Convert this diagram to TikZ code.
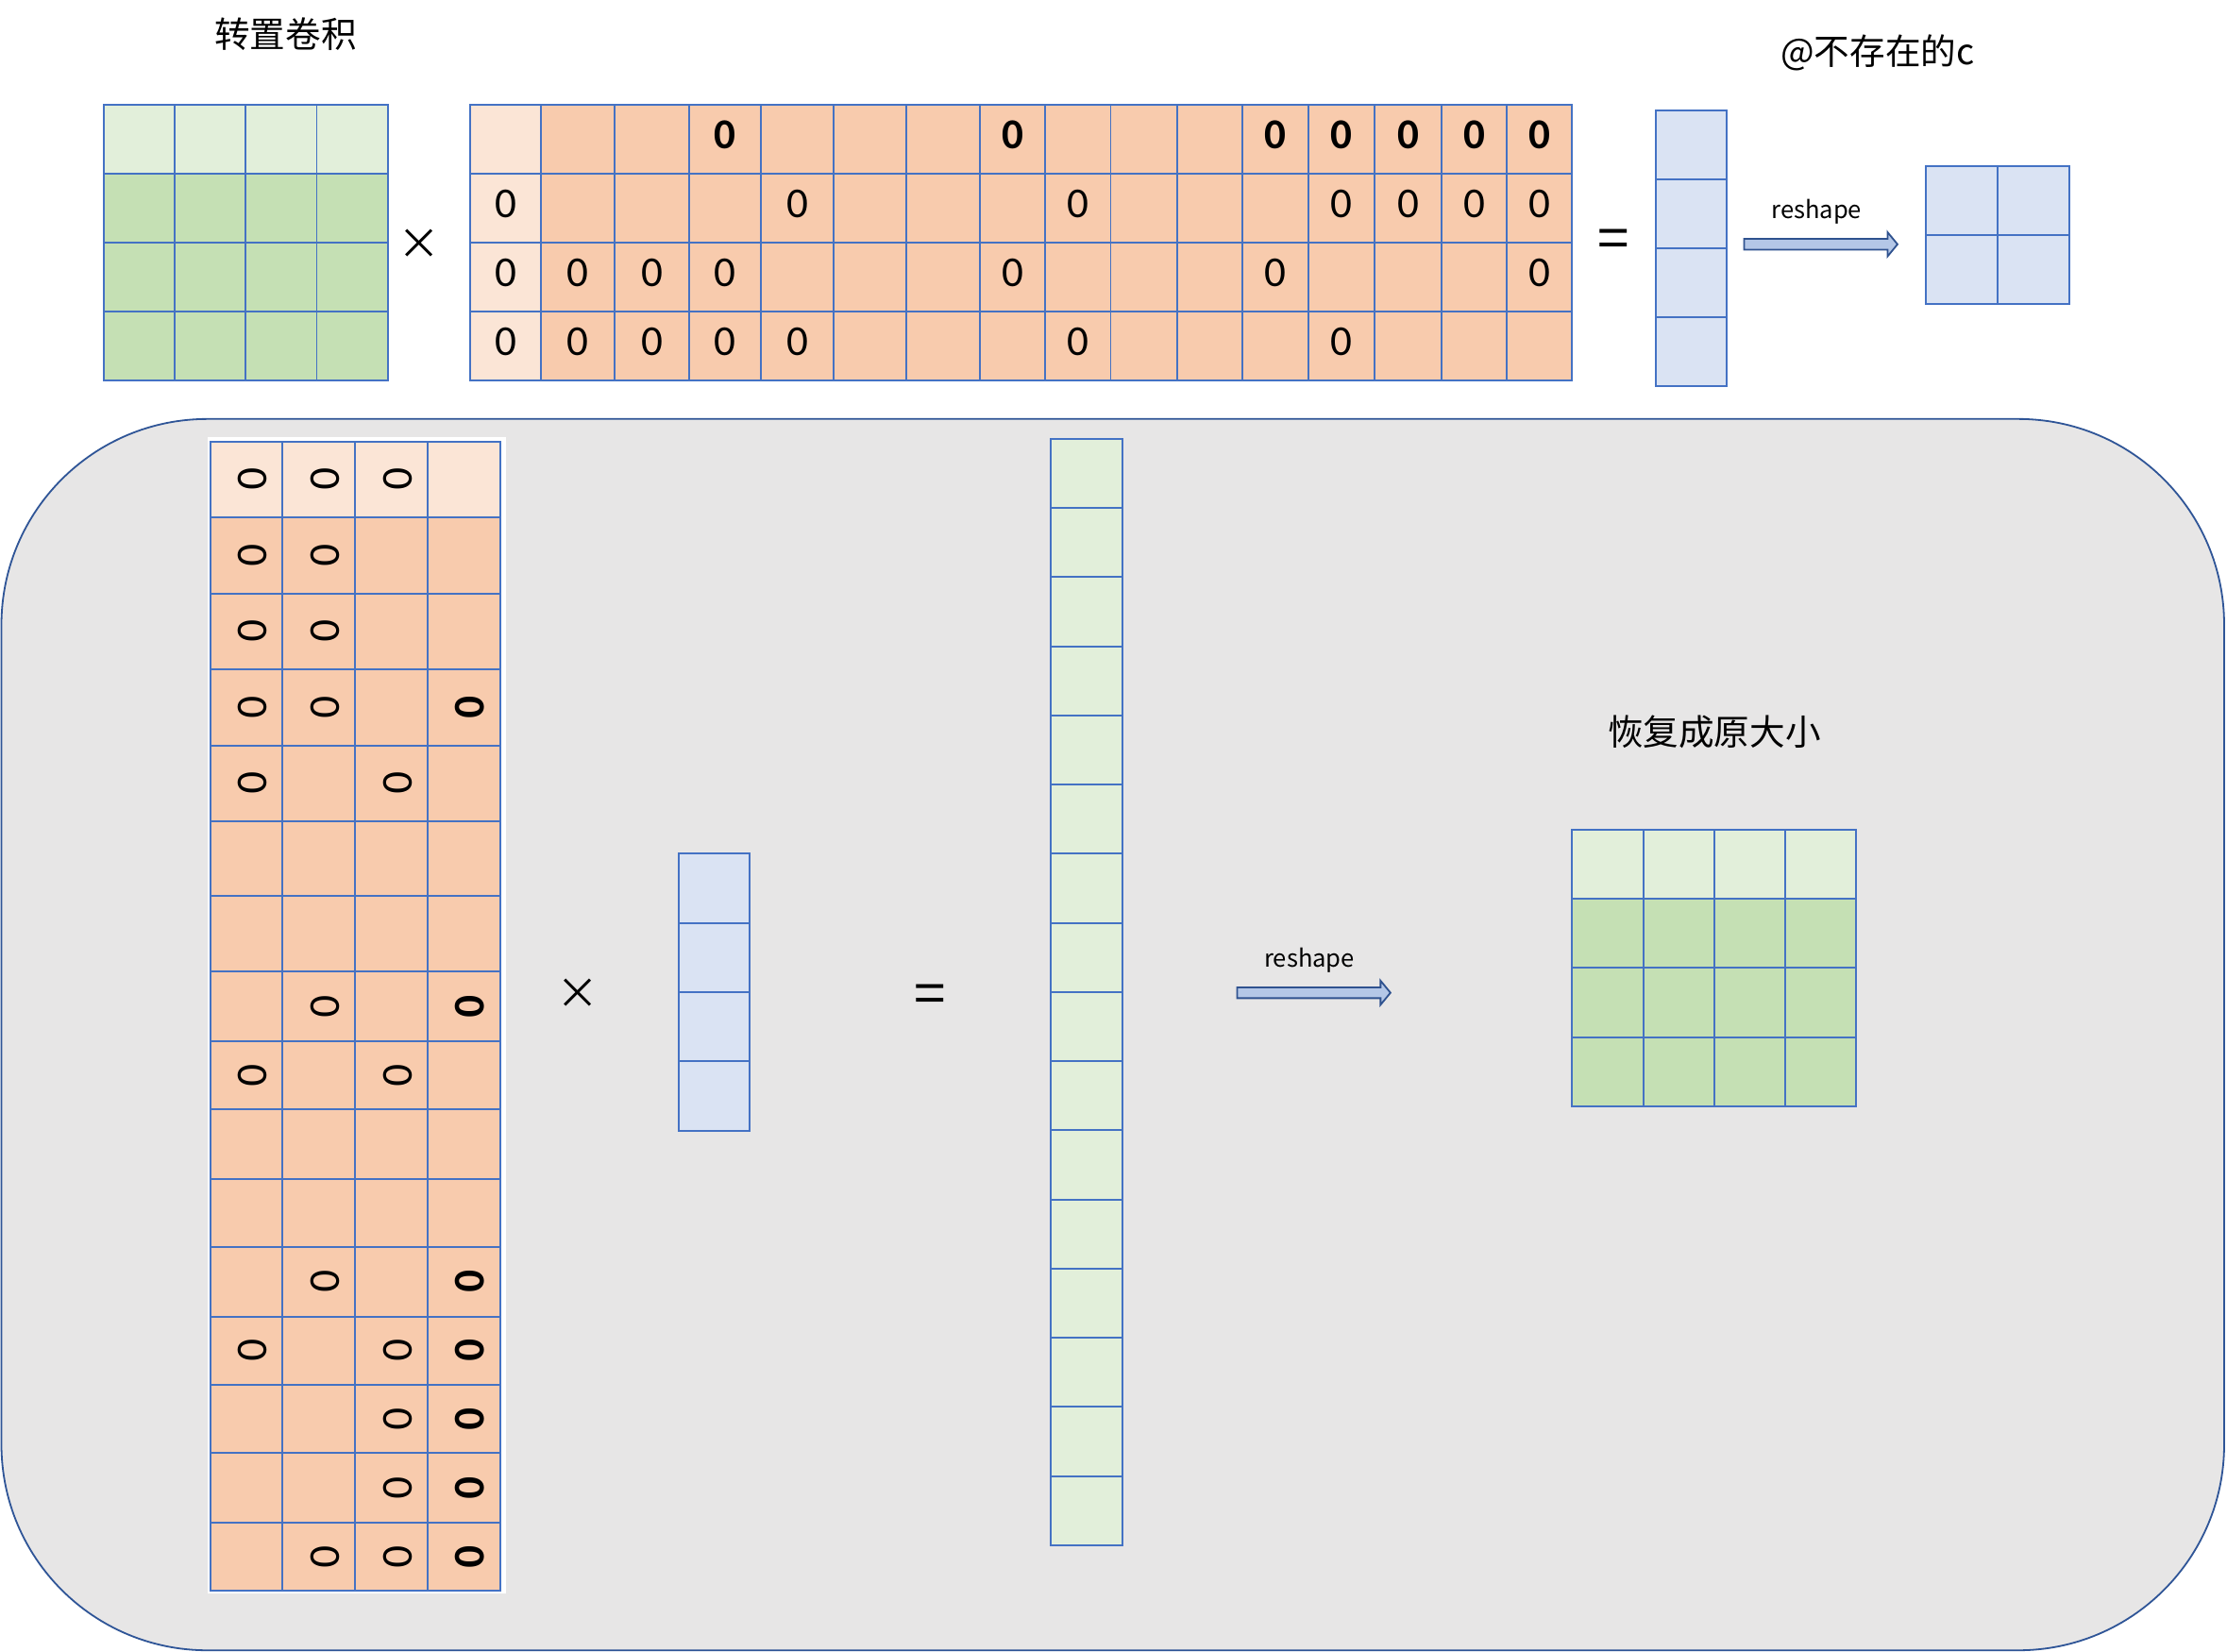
\documentclass[tikz,border=0pt]{standalone}
\usepackage{fontspec}
\newfontfamily\cjk{Noto Sans CJK SC}
\newfontfamily\digit{Carlito}
\definecolor{gridblue}{HTML}{4472C4}
\definecolor{lgreen}{HTML}{E2EFDA}
\definecolor{dgreen}{HTML}{C5E0B4}
\definecolor{lorange}{HTML}{FBE5D6}
\definecolor{dorange}{HTML}{F8CBAD}
\definecolor{lblue}{HTML}{DAE3F3}
\definecolor{panelgray}{HTML}{E7E6E6}
\definecolor{panelblue}{HTML}{2F5597}
\definecolor{arrowfill}{HTML}{B4C7E7}
\definecolor{arrowdraw}{HTML}{2F528F}
\tikzset{
  cell/.style={draw=gridblue,line width=1.3pt},
  zero/.style={font=\digit\fontsize{30}{30}\selectfont,inner sep=0pt},
  bzero/.style={font=\digit\bfseries\fontsize{30}{30}\selectfont,inner sep=0pt},
  rzero/.style={font=\digit\fontsize{31}{31}\selectfont,inner sep=0pt,rotate=-90},
  rbzero/.style={font=\digit\bfseries\fontsize{31}{31}\selectfont,inner sep=0pt,rotate=-90},
  title/.style={font=\cjk\fontsize{25}{25}\selectfont,inner sep=0pt},
  small/.style={font=\cjk\fontsize{17}{17}\selectfont,inner sep=0pt},
  sign/.style={font=\cjk\fontsize{30}{30}\selectfont,inner sep=0pt},
  eqsign/.style={font=\cjk\fontsize{40}{40}\selectfont,inner sep=0pt},
  blockarr/.pic={\draw[fill=arrowfill,draw=arrowdraw,line width=1.2pt]
     (0,-3.8) -- (101,-3.8) -- (101,-8.5) -- (108,0) -- (101,8.5) -- (101,3.8) -- (0,3.8) -- cycle;}
}
\def\tcols{{331,381,433,485,536,587,638,690,736,782,829,875,921,968,1015,1061,1107}}
\def\trows{{311,364,418,471,525,578,631,684,733,781,830,878,927,975,1023,1072,1120}}
\begin{document}
\begin{tikzpicture}[x=1pt,y=-1pt]
\useasboundingbox (0,0) rectangle (1568,1163);
\fill[white] (0,0) rectangle (1568,1163);

% ---------- top part ----------
\node[title] (t1) at (201,24) {转置卷积};
\node[title] (t2) at (1322,37) {@不存在的c};

% input 4x4 green grid
\foreach \r in {0,...,3}{
  \foreach \c in {0,...,3}{
    \pgfmathsetmacro\x{73+50*\c}
    \pgfmathsetmacro\y{74+48.5*\r}
    \ifnum\r=0 \def\fc{lgreen}\else\def\fc{dgreen}\fi
    \filldraw[cell,fill=\fc] (\x,\y) rectangle ++(50,48.5);
  }
}
\node[sign] (x1) at (295,172) {×};

% 4x16 matrix
\foreach \c in {0,...,15}{
  \pgfmathtruncatemacro\cn{\c+1}
  \pgfmathsetmacro\xa{\tcols[\c]}
  \pgfmathsetmacro\xb{\tcols[\cn]}
  \ifnum\c=0 \def\fc{lorange}\else\def\fc{dorange}\fi
  \foreach \r in {0,...,3}{
    \pgfmathsetmacro\y{74+48.5*\r}
    \filldraw[cell,fill=\fc] (\xa,\y) rectangle (\xb,\y+48.5);
  }
}
\foreach \r/\c/\s in {0/3/bzero,0/7/bzero,0/11/bzero,0/12/bzero,0/13/bzero,0/14/bzero,0/15/bzero,
                   1/0/zero,1/4/zero,1/8/zero,1/12/zero,1/13/zero,1/14/zero,1/15/zero,
                   2/0/zero,2/1/zero,2/2/zero,2/3/zero,2/7/zero,2/11/zero,2/15/zero,
                   3/0/zero,3/1/zero,3/2/zero,3/3/zero,3/4/zero,3/8/zero,3/12/zero}{
  \pgfmathtruncatemacro\cn{\c+1}
  \pgfmathsetmacro\xa{\tcols[\c]}
  \pgfmathsetmacro\xb{\tcols[\cn]}
  \pgfmathsetmacro\y{74+48.5*\r+21}
  \node[\s] (tz-\r-\c) at ({(\xa+\xb)/2},\y) {0};
}
\node[eqsign] (e1) at (1136,172) {=};

% result vector
\foreach \r in {0,...,3}{
  \filldraw[cell,fill=lblue] (1166,{78+48.5*\r}) rectangle ++(50,48.5);
}
\node[small] (rs1) at (1279,149) {reshape};
\pic at (1228,172) {blockarr};
% 2x2
\foreach \r in {0,1}{
  \foreach \c in {0,1}{
    \filldraw[cell,fill=lblue] ({1356+50.5*\c},{117+48.5*\r}) rectangle ++(50.5,48.5);
  }
}

% ---------- bottom panel ----------
\filldraw[fill=panelgray,draw=panelblue,line width=1.2pt,rounded corners=145pt]
  (1,295) rectangle (1566,1162);

% tall 16x4 matrix
\fill[white] (146,308) rectangle (356,1122);
\foreach \r in {0,...,15}{
  \pgfmathtruncatemacro\rn{\r+1}
  \pgfmathsetmacro\ya{\trows[\r]}
  \pgfmathsetmacro\yb{\trows[\rn]}
  \ifnum\r=0 \def\fc{lorange}\else\def\fc{dorange}\fi
  \foreach \c in {0,...,3}{
    \filldraw[cell,fill=\fc] ({148+51*\c},\ya) rectangle ({148+51*(\c+1)},\yb);
  }
}
\foreach \r/\c/\s in {0/0/rzero,0/1/rzero,0/2/rzero,1/0/rzero,1/1/rzero,2/0/rzero,2/1/rzero,
                   3/0/rzero,3/1/rzero,4/0/rzero,4/2/rzero,
                   7/1/rzero,8/0/rzero,8/2/rzero,11/1/rzero,12/0/rzero,12/2/rzero,
                   13/2/rzero,14/2/rzero,15/1/rzero,15/2/rzero,
                   3/3/rbzero,7/3/rbzero,11/3/rbzero,12/3/rbzero,13/3/rbzero,14/3/rbzero,15/3/rbzero}{
  \pgfmathtruncatemacro\rn{\r+1}
  \pgfmathsetmacro\ya{\trows[\r]}
  \pgfmathsetmacro\yb{\trows[\rn]}
  \node[\s] (bz-\r-\c) at ({148+51*\c+30},{(\ya+\yb)/2}) {0};
}

\node[sign] (x2) at (407,700) {×};
% blue vector
\foreach \r in {0,...,3}{
  \filldraw[cell,fill=lblue] (478,{601+48.75*\r}) rectangle ++(50,48.75);
}
\node[eqsign] (e2) at (655,704) {=};
% tall green vector
\foreach \r in {0,...,15}{
  \filldraw[cell,fill=lgreen] (740,{309+48.69*\r}) rectangle ++(50,48.69);
}
\node[small] (rs2) at (922,676) {reshape};
\pic at (871,699) {blockarr};

\node[title] (t3) at (1207,515) {恢复成原大小};
\foreach \r in {0,...,3}{
  \foreach \c in {0,...,3}{
    \pgfmathsetmacro\x{1107+50*\c}
    \pgfmathsetmacro\y{584+48.75*\r}
    \ifnum\r=0 \def\fc{lgreen}\else\def\fc{dgreen}\fi
    \filldraw[cell,fill=\fc] (\x,\y) rectangle ++(50,48.75);
  }
}
\end{tikzpicture}
\end{document}
